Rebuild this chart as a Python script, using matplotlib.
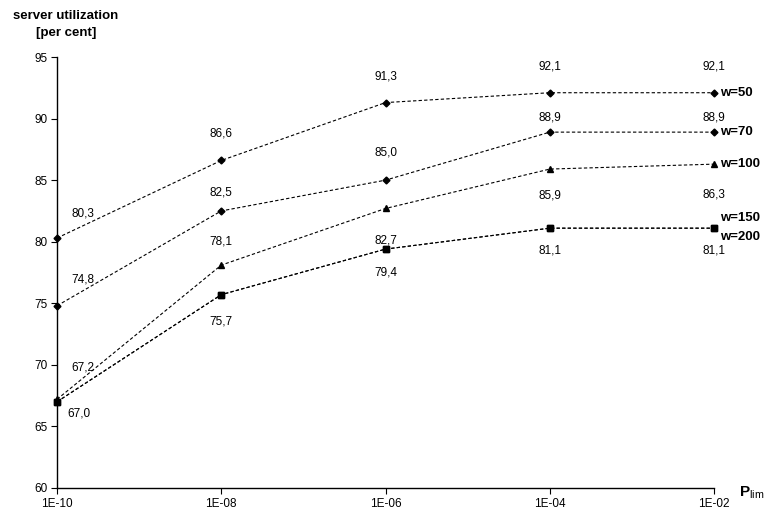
import numpy as np
import matplotlib
matplotlib.use("Agg")
import matplotlib.pyplot as plt

plt.rcParams['font.family'] = ['Liberation Sans', 'DejaVu Sans']
plt.rcParams['mathtext.fontset'] = 'custom'
plt.rcParams['mathtext.rm'] = 'Liberation Sans'
plt.rcParams['mathtext.bf'] = 'Liberation Sans:bold'

# категории по оси x
p_lim = ["1E-10", "1E-08", "1E-06", "1E-04", "1E-02"]

w50 = [80.3, 86.6, 91.3, 92.1, 92.1]
w70 = [74.8, 82.5, 85.0, 88.9, 88.9]
w100 = [67.2, 78.1, 82.7, 85.9, 86.3]
w150 = [67.0, 75.7, 79.4, 81.1, 81.1]
w200 = [67.0, 75.7, 79.4, 81.1, 81.1]

x = np.arange(len(p_lim))

fig = plt.figure(figsize=(7.77, 5.16), dpi=100)
ax = fig.add_axes([0.0734, 0.0543, 0.8456, 0.8352])

kw = dict(color='black', linestyle=(0, (3, 2)), linewidth=0.8, clip_on=False, zorder=3)
ax.plot(x, w50, marker='D', markersize=3.5, **kw)
ax.plot(x, w70, marker='D', markersize=3.5, **kw)
ax.plot(x, w100, marker='^', markersize=4.5, **kw)
ax.plot(x, w150, marker='s', markersize=4.5, **kw)
ax.plot(x, w200, marker='s', markersize=4.5, **kw)


def fmt(v):
    return ("%.1f" % v).replace('.', ',')


# подписи значений: (dx, dy) в пикселях
offs50 = [(26, 25), (0, 27), (0, 26), (0, 26), (0, 26)]
offs70 = [(26, 26), (0, 18), (0, 28), (0, 15), (0, 15)]
offs100 = [(26, 32), (0, 24), (0, -32), (0, -26), (0, -30)]
offs150 = [(22, -12), (0, -27), (0, -23), (0, -22), (0, -22)]

for vals, offs in [(w50, offs50), (w70, offs70), (w100, offs100), (w150, offs150)]:
    for xi, v, (dx, dy) in zip(x, vals, offs):
        ax.annotate(fmt(v), (xi, v), xytext=(dx * 0.72, dy * 0.72), textcoords='offset points',
                    ha='center', va='center', fontsize=8.5)

# подписи серий
names = [("w=50", w50[-1], 0), ("w=70", w70[-1], 0), ("w=100", w100[-1], 0),
         ("w=150", w150[-1], 7), ("w=200", w200[-1], -6)]
for name, v, dy in names:
    ax.annotate(name, (x[-1], v), xytext=(4, dy), textcoords='offset points',
                ha='left', va='center', fontsize=9.5, fontweight='bold')

ax.set_xlim(0, 4)
ax.set_ylim(60, 95)
ax.set_yticks(np.arange(60, 96, 5))
ax.set_xticks(x)
ax.set_xticklabels(p_lim)
ax.tick_params(direction='out', length=4, width=0.8, labelsize=8.5, pad=3)
for s in ['top', 'right']:
    ax.spines[s].set_visible(False)
for s in ['left', 'bottom']:
    ax.spines[s].set_linewidth(1.0)

fig.text(0.085, 0.98, "server utilization\n[per cent]", ha='center', va='top',
         fontsize=9.5, fontweight='bold', linespacing=1.5)
fig.text(0.967, 0.045, r'$\mathbf{P}_{\mathrm{lim}}$', ha='center', va='center', fontsize=11)

fig.savefig("out.png", dpi=100)
